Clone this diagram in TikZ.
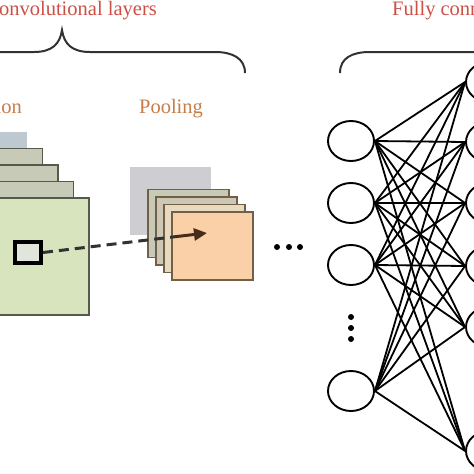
\documentclass[tikz,border=0pt]{standalone}
\usepackage{fontspec}
\setmainfont{Liberation Serif}
\usetikzlibrary{shapes.geometric,arrows.meta}
\definecolor{titre}{RGB}{205,80,70}
\definecolor{sous}{RGB}{200,125,70}
\definecolor{vert}{RGB}{215,228,190}
\definecolor{grisvert}{RGB}{198,202,182}
\definecolor{bleugris}{RGB}{190,200,208}
\definecolor{peche}{RGB}{250,208,168}
\definecolor{beige}{RGB}{232,218,190}
\definecolor{grisbeige}{RGB}{205,200,182}
\definecolor{grispale}{RGB}{205,205,210}
\definecolor{bordv}{RGB}{85,90,75}
\definecolor{bordp}{RGB}{115,95,70}
\definecolor{filtre}{RGB}{225,230,220}
\definecolor{gris}{RGB}{50,50,50}
\definecolor{fleche}{RGB}{70,45,25}
\begin{document}
\begin{tikzpicture}[x=1pt,y=-1pt]
  \tikzstyle{couche}=[draw=bordv,line width=1.8pt]
  \tikzstyle{poolc}=[draw=bordp,line width=1.8pt]
  \tikzstyle{neurone}=[ellipse,draw,line width=1.9pt,minimum width=46pt,minimum height=40pt,inner sep=0pt]
  \tikzstyle{lien}=[line width=1.8pt]
  \tikzstyle{legende}=[font=\fontsize{20.5}{24}\selectfont,inner sep=0pt]
  \useasboundingbox (0,0) rectangle (474,474);
  \clip (0,0) rectangle (474,474);
  \fill[white] (0,0) rectangle (474,474);
  \node[legende,text=titre,anchor=base east] (conv) at (157,15) {Convolutional layers};
  \node[legende,text=titre,anchor=base west] (fc) at (392,15) {Fully connected layers};
  \node[legende,text=sous,anchor=base east] (convo) at (22,113) {Convolution};
  \node[legende,text=sous,anchor=base] (pool) at (171,113) {Pooling};
  \draw[gris,line width=2pt] (245,73) .. controls (245,58) and (232,52) .. (215,52) -- (90,52)
    .. controls (72,52) and (64,44) .. (62,30) .. controls (60,44) and (52,52) .. (34,52) -- (-150,52);
  \draw[gris,line width=2pt] (340,73) .. controls (340,58) and (352,52) .. (370,52) -- (480,52);
  \fill[bleugris] (-150-15.5*4,198-16.5*4) rectangle (89-15.5*4,315-16.5*4);
  \foreach \k in {3,2,1}
    \draw[couche,fill=grisvert] (-150-15.5*\k,198-16.5*\k) rectangle (89-15.5*\k,315-16.5*\k);
  \draw[couche,fill=vert] (-150,198) rectangle (89,315);
  \fill[grispale] (130,167) rectangle (211,235);
  \foreach \k/\c in {3/grisvert,2/grisbeige,1/beige}
    \draw[poolc,fill=\c] (172-8*\k,212-7.5*\k) rectangle (253-8*\k,280-7.5*\k);
  \draw[poolc,fill=peche] (172,212) rectangle (253,280);
  \node[draw=black,line width=4pt,fill=filtre,minimum width=26pt,minimum height=21pt,inner sep=0pt] (f) at (28,252.5) {};
  \coordinate (m) at (176,236.6);
  \coordinate (p) at (207,233);
  \draw[gris,line width=3pt,dash pattern=on 10pt off 6pt] (f.east) -- (m);
  \draw[fleche,line width=3pt,-{Triangle[length=13pt,width=12pt]}] (m) -- (p);
  \foreach \x in {277,289,300} \fill (\x,247) circle (3);
  \foreach \y in {317,328,339} \fill (351,\y) circle (3);
  \foreach \i/\y in {1/141,2/203,3/265,4/391} \node[neurone] (a\i) at (351,\y) {};
  \foreach \j/\y in {1/82,2/142,3/203,4/266,5/327,6/451} \node[neurone] (b\j) at (489,\y) {};
  \foreach \i in {1,...,4} \foreach \j in {1,...,6} \draw[lien] (a\i.east) -- (b\j.west);
\end{tikzpicture}
\end{document}
